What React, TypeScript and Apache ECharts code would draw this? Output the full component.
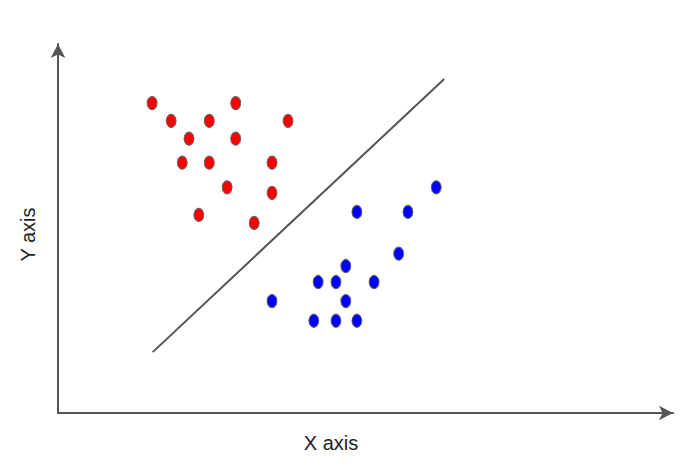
import React, { useEffect, useRef } from "react";
import * as echarts from "echarts";

const redX = [1.53, 2.89, 1.84, 2.46, 3.74, 2.13, 2.89, 2.02, 2.46, 3.48, 2.75, 3.48, 2.29, 3.19];
const redY = [5.04, 5.04, 4.75, 4.75, 4.75, 4.46, 4.46, 4.07, 4.07, 4.07, 3.67, 3.58, 3.22, 3.09];
const blueX = [6.15, 4.86, 5.69, 5.54, 4.68, 4.23, 4.52, 5.14, 3.48, 4.68, 4.16, 4.52, 4.86];
const blueY = [3.67, 3.27, 3.27, 2.59, 2.39, 2.13, 2.13, 2.13, 1.82, 1.82, 1.5, 1.5, 1.5];
const lineX = [1.54, 6.28];
const lineY = [0.99, 5.43];
const xName = "X axis";
const yName = "Y axis";

export default function App() {
  const ref = useRef<HTMLDivElement>(null);
  useEffect(() => {
    if (!ref.current) return;
    const chart = echarts.init(ref.current, undefined, { renderer: "svg" });
    const axisLine = {
      show: true,
      symbol: ["none", "arrow"],
      symbolSize: [11, 14],
      lineStyle: { color: "#555555", width: 2 },
    };
    const font = "Liberation Sans, Arial, sans-serif";
    chart.setOption({
      animation: false,
      backgroundColor: "#ffffff",
      grid: { left: 58, right: 26, top: 44, bottom: 59 },
      xAxis: {
        type: "value",
        min: 0,
        max: 10,
        name: xName,
        nameLocation: "middle",
        nameGap: 20,
        nameTextStyle: { color: "#222222", fontSize: 20, fontFamily: font, padding: [0, 69, 0, 0] },
        axisLine,
        axisTick: { show: false },
        axisLabel: { show: false },
        splitLine: { show: false },
      },
      yAxis: {
        type: "value",
        min: 0,
        max: 6,
        name: yName,
        nameLocation: "middle",
        nameGap: 20,
        nameTextStyle: { color: "#222222", fontSize: 20, fontFamily: font, padding: [0, 12, 0, 0] },
        axisLine,
        axisTick: { show: false },
        axisLabel: { show: false },
        splitLine: { show: false },
      },
      series: [
        {
          type: "line",
          data: lineX.map((x, i) => [x, lineY[i]]),
          symbol: "none",
          lineStyle: { color: "#555555", width: 2 },
          silent: true,
        },
        {
          type: "scatter",
          data: redX.map((x, i) => [x, redY[i]]),
          symbol: "circle",
          symbolSize: [10, 13],
          itemStyle: { color: "#ff0000", borderColor: "#666666", borderWidth: 1, opacity: 1 },
        },
        {
          type: "scatter",
          data: blueX.map((x, i) => [x, blueY[i]]),
          symbol: "circle",
          symbolSize: [10, 13],
          itemStyle: { color: "#0000ff", borderColor: "#666666", borderWidth: 1, opacity: 1 },
        },
      ],
    });
    return () => chart.dispose();
  }, []);
  return (
    <div
      ref={ref}
      style={{ position: "fixed", left: 0, top: 0, width: 699, height: 472 }}
    />
  );
}
